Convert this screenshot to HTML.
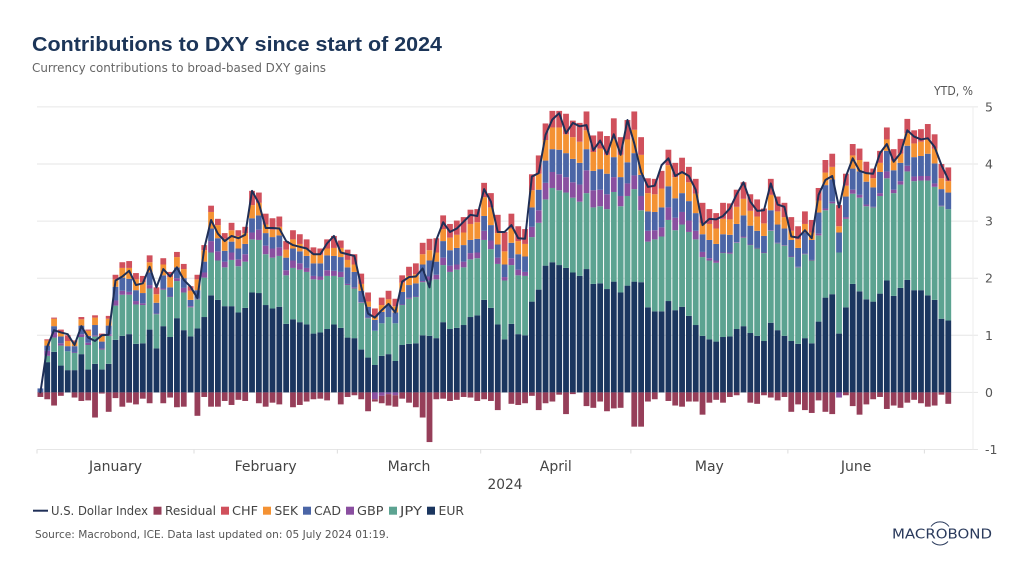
<!DOCTYPE html>
<html lang="en">
<head>
<meta charset="utf-8">
<title>Contributions to DXY since start of 2024</title>
<style>
html,body{margin:0;padding:0;background:#fff;}
body{width:1024px;height:576px;overflow:hidden;}
svg{display:block;font-family:"DejaVu Sans","Liberation Sans",sans-serif;}
</style>
</head>
<body>
<svg id="chart" width="1024" height="576" viewBox="0 0 1024 576" xmlns="http://www.w3.org/2000/svg">
  <rect x="0" y="0" width="1024" height="576" fill="#ffffff"/>
  <text x="32" y="51" font-size="20" font-weight="bold" fill="#1c3558" style="font-family:'Liberation Sans',sans-serif" textLength="410" lengthAdjust="spacingAndGlyphs">Contributions to DXY since start of 2024</text>
  <text x="32" y="72" font-size="12" fill="#666666" textLength="294" lengthAdjust="spacingAndGlyphs">Currency contributions to broad-based DXY gains</text>
  <text x="934" y="95" font-size="12" fill="#555555" textLength="39" lengthAdjust="spacingAndGlyphs">YTD, %</text>
  <g id="grid"></g>
  <g id="bars"></g>
  <g id="line"></g>
  <g id="axes"></g>
  <text x="505" y="489" font-size="14" fill="#444444" text-anchor="middle" textLength="35" lengthAdjust="spacingAndGlyphs">2024</text>

  <g font-size="12.5" fill="#444444">
    <g>
      <line x1="33" y1="510.7" x2="48" y2="510.7" stroke="#1f2f57" stroke-width="2"/>
      <text x="51" y="515" textLength="97" lengthAdjust="spacingAndGlyphs">U.S. Dollar Index</text>
    </g>
    <g>
      <rect x="153.5" y="506.7" width="8" height="8" fill="#963e59"/>
      <text x="165" y="515" textLength="51" lengthAdjust="spacingAndGlyphs">Residual</text>
    </g>
    <g>
      <rect x="221" y="506.7" width="8" height="8" fill="#d0505c"/>
      <text x="232" y="515" textLength="26" lengthAdjust="spacingAndGlyphs">CHF</text>
    </g>
    <g>
      <rect x="263" y="506.7" width="8" height="8" fill="#f49233"/>
      <text x="274.5" y="515" textLength="23.5" lengthAdjust="spacingAndGlyphs">SEK</text>
    </g>
    <g>
      <rect x="303" y="506.7" width="8" height="8" fill="#4b65a6"/>
      <text x="314" y="515" textLength="27" lengthAdjust="spacingAndGlyphs">CAD</text>
    </g>
    <g>
      <rect x="346" y="506.7" width="8" height="8" fill="#8a4fa0"/>
      <text x="357" y="515" textLength="26.5" lengthAdjust="spacingAndGlyphs">GBP</text>
    </g>
    <g>
      <rect x="389" y="506.7" width="8" height="8" fill="#5ca391"/>
      <text x="400" y="515" textLength="22" lengthAdjust="spacingAndGlyphs">JPY</text>
    </g>
    <g>
      <rect x="427" y="506.7" width="8" height="8" fill="#1b365f"/>
      <text x="438.5" y="515" textLength="25.5" lengthAdjust="spacingAndGlyphs">EUR</text>
    </g>
  </g>

  <text x="35" y="538" font-size="11" fill="#555555" textLength="354" lengthAdjust="spacingAndGlyphs">Source: Macrobond, ICE. Data last updated on: 05 July 2024 01:19.</text>

  <g>
    <text x="892" y="538.5" font-size="13.5" fill="#2a3a5c" textLength="100" lengthAdjust="spacingAndGlyphs">MACROBOND</text>
    <path d="M931 526.5 A11 11 0 0 1 949 526.5" fill="none" stroke="#2a3a5c" stroke-width="1"/>
    <path d="M932 541.5 A11 11 0 0 0 948 541.5" fill="none" stroke="#2a3a5c" stroke-width="1"/>
  </g>
</svg>

<script>
const monthNames = ["January","February","March","April","May","June"];
const monthBarCounts = [23,21,21,22,23,20];
const yTicks = [-1,0,1,2,3,4,5];

const eur = [
0,.53,.71,.47,.39,.39,.67,.40,.50,.40,
.50,.92,.99,1.02,.85,.86,1.10,.77,1.16,.97,
1.30,1.09,.98,1.12,1.32,1.70,1.62,1.51,1.51,1.40,
1.48,1.75,1.74,1.53,1.47,1.50,1.20,1.28,1.23,1.19,
1.03,1.05,1.11,1.19,1.13,.96,.95,.75,.61,.48,
.64,.67,.55,.83,.85,.86,1.00,.99,.95,1.23,
1.11,1.13,1.18,1.32,1.35,1.62,1.48,1.19,.93,1.20,
1.02,1.00,1.59,1.80,2.22,2.28,2.23,2.18,2.10,2.04,
2.16,1.90,1.91,1.81,1.94,1.75,1.87,1.94,1.93,1.49,
1.42,1.42,1.60,1.44,1.50,1.34,1.18,.99,.93,.89,
.97,.98,1.11,1.16,1.04,.99,.90,1.22,1.09,.99,
.90,.85,.95,.86,1.24,1.66,1.72,1.03,1.49,1.90,
1.77,1.63,1.59,1.73,1.96,1.69,1.83,1.97,1.79,1.79,
1.70,1.62,1.29,1.26];
const jpy = [
0,.11,.25,.35,.33,.30,.30,.43,.48,.35,
.49,.60,.72,.69,.69,.67,.72,.60,.64,.70,
.65,.66,.51,.51,.69,.75,.69,.68,.81,.81,
.81,.93,.93,.89,.89,.89,.85,.90,.92,.92,
.95,.92,.93,.85,.89,.92,.87,.82,.69,.60,
.57,.65,.66,.70,.79,.81,.93,.97,1.03,1.00,
1.00,1.02,1.01,1.01,1.00,1.05,1.03,1.06,1.03,1.03,
1.03,1.04,1.13,1.17,1.16,1.30,1.31,1.32,1.31,1.30,
1.33,1.34,1.35,1.40,1.57,1.51,1.57,1.62,1.26,1.15,
1.26,1.31,1.42,1.40,1.44,1.47,1.50,1.38,1.38,1.38,
1.47,1.45,1.51,1.55,1.54,1.53,1.54,1.61,1.52,1.58,
1.47,1.34,1.47,1.45,1.51,1.53,1.59,1.42,1.55,1.58,
1.64,1.63,1.65,1.71,1.79,1.80,1.81,1.90,1.91,1.92,
2.01,1.98,1.97,1.95];
const gbp = [
0,.09,.09,.04,0,.01,.05,.04,.02,.02,
.03,.09,.07,.05,.06,.03,.06,.01,.02,.01,
.05,.08,.02,.01,.09,.20,.16,.10,.13,.12,
.13,.12,.18,.15,.16,.15,.09,.13,.11,.07,
.06,.06,.10,.09,.09,.02,.02,.01,.01,-.12,
-.06,-.03,-.05,.01,.02,.01,.02,.07,.08,.13,
.11,.09,.10,.11,.10,.16,.15,.11,.06,.12,
.10,.07,.18,.22,.29,.28,.28,.27,.27,.30,
.40,.30,.29,.26,.26,.18,.22,.24,.25,.19,
.16,.16,.22,.22,.22,.20,.15,.09,.04,.04,
.01,.02,.01,.02,.01,.01,.01,.01,.01,.01,
.01,.01,.01,.01,.03,.03,.03,-.09,.03,.07,
.05,.03,.01,.05,.12,.06,.06,.10,.08,.08,
.08,.06,.01,0];
const cad = [
.07,.09,.11,.12,.09,.11,.15,.12,.18,.12,
.15,.24,.23,.23,.19,.18,.22,.19,.23,.16,
.19,.17,.11,.15,.19,.22,.23,.19,.19,.19,
.18,.25,.25,.22,.20,.21,.22,.21,.21,.21,
.22,.23,.26,.26,.26,.29,.27,.20,.19,.19,
.20,.20,.19,.22,.22,.23,.29,.28,.23,.29,
.27,.29,.29,.23,.24,.26,.27,.23,.22,.27,
.27,.27,.34,.36,.39,.40,.43,.42,.41,.38,
.37,.34,.36,.36,.35,.33,.37,.39,.37,.34,
.32,.35,.37,.34,.33,.34,.31,.31,.32,.29,
.32,.31,.32,.37,.33,.30,.29,.35,.32,.29,
.29,.33,.37,.35,.37,.41,.39,.35,.36,.37,
.41,.40,.34,.37,.36,.34,.32,.35,.34,.35,
.39,.35,.29,.29];
const sek = [
0,.09,.13,.07,.09,.08,.11,.09,.13,.10,
.12,.13,.17,.19,.19,.19,.18,.15,.19,.18,
.18,.16,.16,.19,.20,.29,.23,.21,.20,.22,
.19,.23,.22,.15,.13,.15,.14,.16,.13,.12,
.16,.15,.12,.14,.16,.13,.13,.12,.09,.05,
.12,.11,.11,.16,.16,.16,.18,.18,.16,.21,
.22,.23,.22,.28,.29,.33,.31,.20,.23,.25,
.23,.22,.30,.28,.36,.38,.39,.33,.38,.37,
.33,.33,.36,.33,.32,.39,.40,.41,.35,.32,
.31,.33,.37,.37,.34,.33,.34,.19,.28,.27,
.27,.27,.30,.29,.26,.25,.22,.27,.23,.20,
.16,.15,.15,.13,.21,.22,.22,.11,.19,.23,
.20,.15,.16,.16,.20,.17,.16,.22,.24,.25,
.25,.26,.19,.20];
const chf = [
0,.02,.02,.05,.10,.02,.04,.02,.04,.04,
.05,.08,.10,.12,.11,.11,.12,.12,.11,.09,
.09,.09,.08,.08,.09,.11,.11,.10,.13,.10,
.11,.25,.18,.19,.20,.18,.15,.16,.17,.17,
.12,.11,.16,.21,.13,.18,.18,.18,.16,.15,
.13,.15,.13,.13,.16,.19,.20,.20,.25,.24,
.24,.25,.27,.25,.23,.25,.25,.32,.34,.26,
.26,.26,.28,.32,.29,.29,.29,.36,.29,.33,
.33,.29,.30,.33,.36,.31,.34,.32,.31,.26,
.27,.31,.27,.25,.28,.27,.26,.36,.26,.27,
.28,.28,.30,.29,.29,.30,.26,.28,.26,.25,
.24,.23,.22,.22,.22,.22,.23,.37,.21,.20,
.20,.20,.17,.21,.21,.20,.26,.25,.23,.22,
.27,.25,.25,.24];
const residual = [
-.08,-.12,-.23,-.06,0,-.09,-.15,-.14,-.44,-.02,
-.34,-.10,-.25,-.18,-.21,-.11,-.19,0,-.19,-.09,
-.26,-.25,0,-.41,-.08,-.25,-.25,-.15,-.22,-.13,
-.15,0,-.19,-.25,-.18,-.21,0,-.26,-.22,-.16,
-.12,-.11,-.14,0,-.21,-.08,-.05,-.12,-.33,-.04,
-.13,-.20,-.20,-.11,-.18,-.26,-.44,-.87,-.12,-.11,
-.15,-.13,-.08,-.09,-.15,-.12,-.15,-.31,0,-.20,
-.22,-.19,-.06,-.31,-.19,-.16,-.04,-.38,-.03,0,
-.24,-.27,-.16,-.33,-.28,-.27,0,-.60,-.60,-.16,
-.12,0,-.15,-.23,-.25,-.16,-.16,-.39,-.18,-.13,
-.18,-.08,-.05,0,-.18,-.20,-.05,-.09,-.14,-.08,
-.34,-.21,-.31,-.36,-.14,-.34,-.38,0,-.05,-.24,
-.39,-.21,-.12,-.08,-.29,-.23,-.27,-.18,-.13,-.19,
-.25,-.23,-.04,-.20];
const dollarIndex = [
0,.80,1.09,1.05,1.02,.83,1.16,.96,.90,1.00,
1.01,1.96,2.03,2.13,1.88,1.91,2.20,1.84,2.16,2.03,
2.19,1.97,1.85,1.65,2.52,3.02,2.78,2.65,2.74,2.70,
2.76,3.53,3.31,2.88,2.88,2.87,2.65,2.58,2.55,2.52,
2.42,2.42,2.61,2.74,2.45,2.42,2.39,1.85,1.38,1.31,
1.44,1.55,1.40,1.94,2.02,2.03,2.17,1.84,2.67,2.98,
2.81,2.87,2.99,3.11,3.09,3.56,3.34,2.81,2.81,2.93,
2.70,2.69,3.78,3.84,4.51,4.78,4.89,4.54,4.72,4.66,
4.68,4.24,4.41,4.17,4.52,4.16,4.77,4.36,3.86,3.60,
3.62,3.98,4.10,3.79,3.86,3.79,3.55,2.93,3.04,3.03,
3.09,3.22,3.47,3.68,3.34,3.18,3.19,3.66,3.29,3.25,
2.73,2.71,2.84,2.70,3.46,3.72,3.79,3.24,3.78,4.10,
3.88,3.84,3.83,4.19,4.35,4.04,4.19,4.59,4.48,4.43,
4.45,4.30,3.98,3.73];

const seriesList = [
  {key:"eur", values:eur, color:"#1b365f"},
  {key:"jpy", values:jpy, color:"#5ca391"},
  {key:"gbp", values:gbp, color:"#8a4fa0"},
  {key:"cad", values:cad, color:"#4b65a6"},
  {key:"sek", values:sek, color:"#f49233"},
  {key:"chf", values:chf, color:"#d0505c"},
  {key:"residual", values:residual, color:"#963e59"}
];

const NS = "http://www.w3.org/2000/svg";
const plotLeft = 37, plotRight = 973, barStep = 6.826, barWidth = 5.8;
const yZero = 392.4, yUnit = 57.1;
function xScale(i){ return plotLeft + barStep * (i + 0.5); }
function yScale(v){ return yZero - v * yUnit; }
function make(tag, attrs){
  const el = document.createElementNS(NS, tag);
  for (const k in attrs) el.setAttribute(k, attrs[k]);
  return el;
}

const gridG = document.getElementById("grid");
const axesG = document.getElementById("axes");
const barsG = document.getElementById("bars");
const lineG = document.getElementById("line");

yTicks.forEach(function(t){
  const gl = make("line", {x1:plotLeft, x2:978, y1:yScale(t), y2:yScale(t), stroke:"#e6e6e6", "stroke-width":1});
  
  
  gridG.appendChild(gl);
  const lb = make("text", {x:985, y:yScale(t)+4.5, "font-size":12.5, fill:"#555555"});
  
  
  lb.textContent = String(t);
  axesG.appendChild(lb);
});

const rightAxis = make("line", {x1:plotRight, x2:plotRight, y1:yScale(5), y2:yScale(-1), stroke:"#eeeeee", "stroke-width":1});


axesG.appendChild(rightAxis);

let cum = 0;
const firstTick = make("line", {x1:plotLeft, x2:plotLeft, y1:yScale(-1), y2:yScale(-1)+4, stroke:"#dddddd", "stroke-width":1});


axesG.appendChild(firstTick);
monthNames.forEach(function(name, m){
  const startX = plotLeft + barStep * cum;
  cum += monthBarCounts[m];
  const endX = plotLeft + barStep * cum;
  const tk = make("line", {x1:endX, x2:endX, y1:yScale(-1), y2:yScale(-1)+4, stroke:"#dddddd", "stroke-width":1});
  
  
  axesG.appendChild(tk);
  const lb = make("text", {x:(startX+endX)/2, y:471, "font-size":14, fill:"#444444", "text-anchor":"middle"});
  
  
  lb.textContent = name;
  axesG.appendChild(lb);
});

dollarIndex.forEach(function(_, i){
  let up = 0, down = 0;
  seriesList.forEach(function(s){
    const v = s.values[i];
    if (!v) return;
    let y0, y1;
    if (v > 0){ y0 = yScale(up + v); y1 = yScale(up); up += v; }
    else { y0 = yScale(down); y1 = yScale(down + v); down += v; }
    const r = make("rect", {x:xScale(i)-barWidth/2, y:y0, width:barWidth, height:y1-y0, fill:s.color});
    
    
    barsG.appendChild(r);
  });
});

const pts = dollarIndex.map(function(v, i){ return xScale(i).toFixed(2) + "," + yScale(v).toFixed(2); }).join(" ");
const poly = make("polyline", {points:pts, fill:"none", stroke:"#1f2f57", "stroke-width":2, "stroke-linejoin":"round", "stroke-linecap":"round"});


lineG.appendChild(poly);
</script>
</body>
</html>
